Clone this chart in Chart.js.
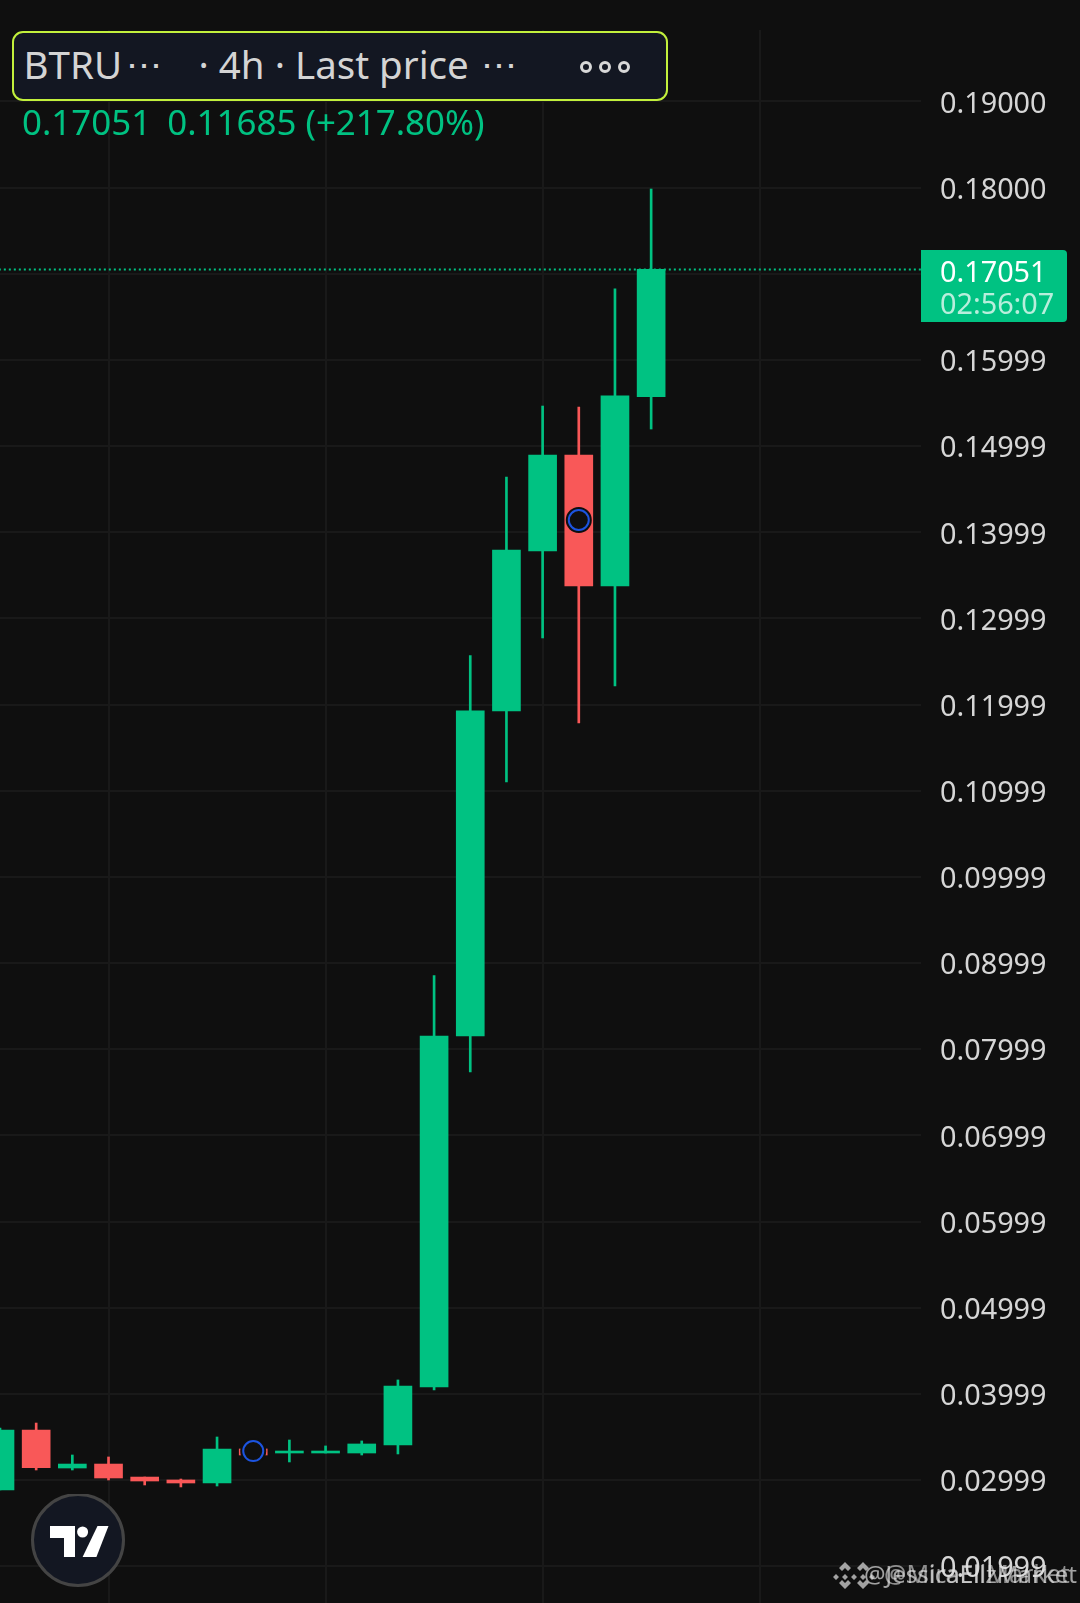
<!DOCTYPE html>
<html><head><meta charset="utf-8">
<script src="https://cdn.jsdelivr.net/npm/chart.js@4"></script>
<style>
html,body{margin:0;padding:0;background:#0f0f0f;width:1080px;height:1603px;overflow:hidden;font-family:"Noto Sans",sans-serif}
#wrap{position:relative;width:1080px;height:1603px}
canvas{position:absolute;left:0;top:0}
.a{position:absolute;white-space:pre;line-height:1}
#top{position:absolute;left:0;top:0;width:1080px;height:30px;background:#0f0f0f}
#panel{position:absolute;left:11.5px;top:30.5px;width:652.5px;height:66.5px;background:#131722;border:2.5px solid #c2f03c;border-radius:11px}
.dot{position:absolute;width:6px;height:6px;border:3px solid #d8d8d8;border-radius:50%;top:28px}
#price{position:absolute;left:921px;top:250px;width:146px;height:72px;background:#00c282;border-radius:0 4px 4px 0}
</style></head><body><div id="wrap">
<canvas id="c" width="1080" height="1603"></canvas>
<div id="top"></div>
<div id="panel">
<span class="a" style="left:10px;top:12px;font-size:38.5px;color:#d4d4d4">BTRU</span>
<span class="a" style="left:112px;top:14px;font-size:36px;color:#d4d4d4">⋯</span>
<span class="a" style="left:175px;top:12px;font-size:38.5px;color:#d4d4d4"> · 4h · Last price</span>
<span class="a" style="left:467px;top:14px;font-size:36px;color:#d4d4d4">⋯</span>
<span class="dot" style="left:566px"></span><span class="dot" style="left:585px"></span><span class="dot" style="left:604px"></span>
</div>
<div class="a" style="left:22px;top:105px;font-size:34.9px;word-spacing:0;color:#00c282"><span style="margin-right:-2px">0.17051  </span>0.11685 (+217.80%)</div>
<div id="price">
<span class="a" style="left:19px;top:7px;font-size:28.8px;color:#fff">0.17051</span>
<span class="a" style="left:19px;top:39px;font-size:28.8px;color:rgba(255,255,255,.72)">02:56:07</span>
</div>
<svg style="position:absolute;left:31px;top:1494px" width="96" height="96" viewBox="0 0 96 96">
<circle cx="47" cy="46" r="45.5" fill="#131722" stroke="#444" stroke-width="3"/>
<path d="M19 32h25v31H33V44H19z" fill="#fff"/><circle cx="51.6" cy="38" r="5.5" fill="#fff"/><path d="M66.5 32h11L65.4 63H51.6z" fill="#fff"/>
</svg>
<div class="a" style="left:864px;top:1562px;font-size:24px;color:rgba(225,225,225,.7)">@JessicaEllzMarket</div>
<div class="a" style="left:884px;top:1561px;font-size:25px;color:rgba(225,225,225,.6)">@MiraEllMarket</div>
<svg style="position:absolute;left:830px;top:1562px" width="50" height="30" viewBox="0 0 50 30" fill="rgba(225,225,225,.7)">
<path d="M15 0l6 6-3 3-3-3-3 3-3-3zM15 27l6-6-3-3-3 3-3-3-3 3zM6 12l3 3-3 3-3-3zM15 12l3 3-3 3-3-3zM24 12l3 3-3 3-3-3zM33 0l6 6-3 3-3-3-3 3-3-3zM33 27l6-6-3-3-3 3-3-3-3 3zM33 12l3 3-3 3-3-3zM42 12l3 3-3 3-3-3z"/>
</svg>
</div>
<script>
const indexes=[0,1,2,3,4,5,6,7,8,9,10,11,12,13,14,15,16,17,18];
const opens =[.02883,.03579,.03138,.03184,.03033,.02999,.02964,.03359,.03312,.03312,.03312,.03405,.04078,.08153,.11925,.13782,.14897,.13376,.15573];
const highs =[.03602,.03660,.03289,.03266,.03033,.03010,.03498,.03359,.03463,.03394,.03452,.04160,.08853,.12568,.14641,.15465,.15454,.16824,.17984];
const lows  =[.02883,.03115,.03115,.02999,.02941,.02918,.02929,.03289,.03208,.03312,.03289,.03301,.04044,.07735,.11101,.12773,.11786,.12215,.15198];
const closes=[.03579,.03142,.03184,.03022,.02987,.02964,.03359,.03289,.03335,.03335,.03417,.04090,.08153,.11927,.13794,.14897,.13376,.15582,.17051];
const tickValues=[.19,.18,.17,.15999,.14999,.13999,.12999,.11999,.10999,.09999,.08999,.07999,.06999,.05999,.04999,.03999,.02999,.01999];
const tickLabels=["0.19000","0.18000","0.17000","0.15999","0.14999","0.13999","0.12999","0.11999","0.10999","0.09999","0.08999","0.07999","0.06999","0.05999","0.04999","0.03999","0.02999","0.01999"];
const verticalGrid=[3,9,15,21];
const lastPrice=.17051;
const markerPoints=[{x:7,y:.03335},{x:16,y:.14142}];
const GREEN='#00c282',RED='#f95858',BG='#0f0f0f',GRID='#191919';
const colors=indexes.map(i=>closes[i]>=opens[i]?GREEN:RED);
const noPad=s=>{s.paddingTop=s.paddingBottom=s.paddingLeft=s.paddingRight=0};
new Chart(document.getElementById('c'),{
 type:'bar',
 data:{datasets:[
  {type:'scatter',showLine:false,data:markerPoints,pointRadius:10,pointBorderWidth:2,pointBackgroundColor:'rgba(0,0,0,0)',pointBorderColor:'#1c54e0',order:0},
  {type:'scatter',showLine:false,data:markerPoints,pointRadius:13,pointBorderWidth:0,pointBackgroundColor:BG,order:1},
  {data:indexes.map(i=>({x:i,y:[opens[i],closes[i]]})),backgroundColor:colors,barThickness:28,grouped:false,order:2,minBarLength:2},
  {data:indexes.map(i=>({x:i,y:[lows[i],highs[i]]})),backgroundColor:colors,barThickness:2,grouped:false,order:3},
  {type:'line',data:[{x:-1,y:lastPrice},{x:30,y:lastPrice}],borderColor:GREEN,borderWidth:2,borderDash:[2,3],pointRadius:0,order:4}
 ]},
 options:{responsive:false,animation:false,devicePixelRatio:1,
  layout:{padding:0,autoPadding:false},
  plugins:{legend:{display:false},tooltip:{enabled:false}},
  scales:{
   x:{type:'linear',offset:false,min:0,max:25.46,display:true,
      afterBuildTicks:s=>{s.ticks=verticalGrid.map(v=>({value:v}))},
      afterFit:s=>{s.height=0;noPad(s)},
      ticks:{display:false},border:{display:false},grid:{offset:false,color:GRID,lineWidth:2,drawTicks:false}},
   y:{type:'linear',position:'right',min:.01571,max:.20178,
      afterBuildTicks:s=>{s.ticks=tickValues.map(v=>({value:v}))},
      afterFit:s=>{s.width=159;noPad(s)},
      border:{display:false},
      grid:{color:GRID,lineWidth:2,drawTicks:false},
      ticks:{padding:19,labelOffset:3,color:'#d6d6d6',font:{family:'"Noto Sans"',size:28.8},autoSkip:false,maxRotation:0,
        callback:(v,i)=>tickLabels[i]}}
  }
 }
});
</script></body></html>
